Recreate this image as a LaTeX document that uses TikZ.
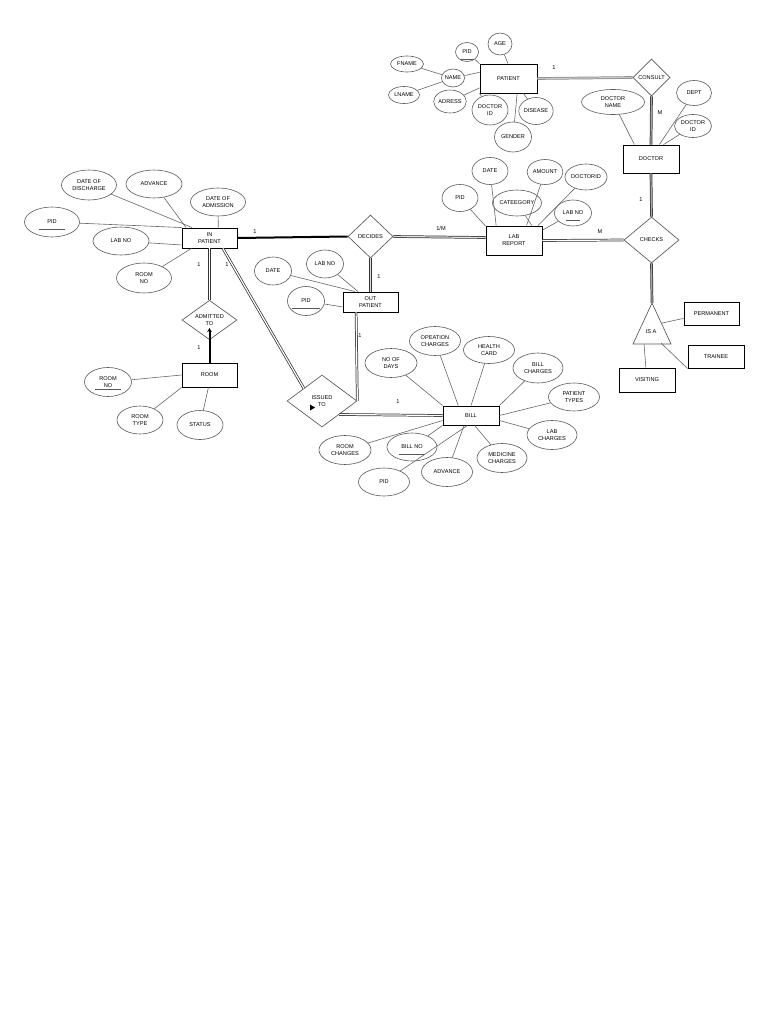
\documentclass[tikz,border=0pt]{standalone}
\usepackage{fontspec}
\setsansfont{Liberation Sans}
\usetikzlibrary{shapes.geometric, arrows.meta}
\tikzset{
    attr/.style 2 args = {ellipse, draw = black!65, line width = 0.45pt, inner sep = 0pt,
        minimum width = {#1*0.75pt}, minimum height = {#2*0.75pt}, align = center},
    ent/.style 2 args = {rectangle, draw = black, line width = 0.7pt, inner sep = 0pt,
        minimum width = {#1*0.75pt}, minimum height = {#2*0.75pt}, align = center},
    rel/.style 2 args = {diamond, draw = black!65, line width = 0.5pt, inner sep = 0pt,
        minimum width = {#1*0.75pt}, minimum height = {#2*0.75pt}, align = center},
    pk/.style = {path picture = {\draw[line width = 0.6pt]
        ([xshift = -#1, yshift = -5.2pt]path picture bounding box.center) --
        ([xshift = #1, yshift = -5.2pt]path picture bounding box.center);}},
    link/.style = {draw = black!60, line width = 0.45pt},
    dbl/.style = {draw = black!80, line width = 0.55pt, double = white, double distance = 0.9pt},
    heavy/.style = {draw = black, line width = 1.5pt},
    card/.style = {inner sep = 0pt}
}

\begin{document}
\begin{tikzpicture}[x = 0.75pt, y = -0.75pt, font = \sffamily\fontsize{4.2}{5.2}\selectfont]
    % Pagina
    \useasboundingbox (0,0) rectangle (768,1024);
    % Entita
    \node[ent = {57}{29}] (patient) at (508.5,78.5) {PATIENT};
    \node[ent = {56}{28}] (doctor) at (651,159) {DOCTOR};
    \node[ent = {56}{29}] (labreport) at (514,240.5) {LAB\\REPORT};
    \node[ent = {55}{20}] (inpatient) at (209.5,238) {IN\\PATIENT};
    \node[ent = {55}{20}] (outpatient) at (370.5,302) {OUT\\PATIENT};
    \node[ent = {55}{24}] (room) at (209.5,375) {ROOM};
    \node[ent = {56}{19}] (bill) at (471,415.5) {BILL};
    \node[ent = {55}{23}] (permanent) at (711.5,313.5) {PERMANENT};
    \node[ent = {56}{23}] (trainee) at (716,356.5) {TRAINEE};
    \node[ent = {56}{24}] (visiting) at (647,380) {VISITING};
    % Relazioni
    \node[rel = {37}{37}] (consult) at (651.5,77.5) {CONSULT};
    \node[rel = {55}{46}] (checks) at (651.5,240) {CHECKS};
    \node[rel = {45}{43}] (decides) at (370.5,236.5) {DECIDES};
    \node[rel = {55}{36}] (admitted) at (209.5,320) {ADMITTED\\TO};
    \node[rel = {70}{52}] (issued) at (322,401) {ISSUED\\TO};
    % IS A
    \coordinate (isatop) at (652,303);
    \coordinate (isaleft) at (633,344);
    \coordinate (isaright) at (671,344);
    \draw[draw = black!65, line width = 0.5pt] (isatop) -- (isaright) -- (isaleft) -- cycle;
    \node (isa) at (651,332) {IS A};
    \coordinate (isaperm) at (662,323);
    \coordinate (isatrain) at (661,343);
    \coordinate (isavisit) at (644,344);
    % Attributi di PATIENT
    \node[attr = {23}{19}, pk = 5pt] (patpid) at (467,52) {PID};
    \node[attr = {24}{22}] (patage) at (500,44) {AGE};
    \node[attr = {33}{16}] (patfname) at (407,64) {FNAME};
    \node[attr = {23}{18}] (patname) at (453,78) {NAME};
    \node[attr = {31}{17}] (patlname) at (404,95) {LNAME};
    \node[attr = {31}{23}] (patadress) at (450,101.5) {ADRESS};
    \node[attr = {36}{30}] (patdoctor) at (490,110) {DOCTOR\\ID};
    \node[attr = {32}{27}] (patdisease) at (536,111) {DISEASE};
    \node[attr = {37}{30}] (patgender) at (513,137) {GENDER};
    % Attributi di DOCTOR
    \node[attr = {63}{25}] (docname) at (613,102) {DOCTOR\\NAME};
    \node[attr = {35}{25}] (docdept) at (694,93) {DEPT};
    \node[attr = {37}{23}] (docid) at (693,126) {DOCTOR\\ID};
    % Attributi di LAB REPORT
    \node[attr = {36}{27}] (labdate) at (490,171) {DATE};
    \node[attr = {36}{25}] (labamount) at (545,172) {AMOUNT};
    \node[attr = {37}{26}] (labdoctor) at (586,177) {DOCTORID};
    \node[attr = {36}{27}] (labpid) at (460,198) {PID};
    \node[attr = {37}{26}] (labcat) at (517,203) {CATEEGORY};
    \node[attr = {37}{26}, pk = 5pt] (labno) at (573,213) {LAB NO};
    % Attributi di IN PATIENT
    \node[attr = {55}{30}] (indischarge) at (89,185) {DATE OF\\DISCHARGE};
    \node[attr = {56}{28}] (inadvance) at (154,184) {ADVANCE};
    \node[attr = {55}{28}] (inadmission) at (218,202) {DATE OF\\ADMISSION};
    \node[attr = {55}{30}, pk = 10pt] (inpid) at (52,222) {PID};
    \node[attr = {56}{28}] (inlabno) at (121,241) {LAB NO};
    \node[attr = {55}{30}] (inroomno) at (144,278) {ROOM\\NO};
    % Attributi di OUT PATIENT
    \node[attr = {37}{28}] (outdate) at (273,271) {DATE};
    \node[attr = {37}{28}] (outlabno) at (325,264) {LAB NO};
    \node[attr = {37}{29}, pk = 10.5pt] (outpid) at (306,301) {PID};
    % Attributi di ROOM
    \node[attr = {47}{29}, pk = 10pt] (roomno) at (108,382) {ROOM\\NO};
    \node[attr = {46}{28}] (roomtype) at (140,420) {ROOM\\TYPE};
    \node[attr = {46}{29}] (roomstatus) at (200,425) {STATUS};
    % Attributi di BILL
    \node[attr = {52}{29}] (billdays) at (391,363) {NO OF\\DAYS};
    \node[attr = {51}{29}] (billop) at (435,341) {OPEATION\\CHARGES};
    \node[attr = {51}{27}] (billcard) at (489,350) {HEALTH\\CARD};
    \node[attr = {50}{30}] (billcharges) at (538,368) {BILL\\CHARGES};
    \node[attr = {51}{28}] (billtypes) at (574,397) {PATIENT\\TYPES};
    \node[attr = {50}{29}] (billlab) at (552,435) {LAB\\CHARGES};
    \node[attr = {50}{29}] (billmed) at (502,458) {MEDICINE\\CHARGES};
    \node[attr = {51}{29}] (billadvance) at (447,472) {ADVANCE};
    \node[attr = {51}{28}] (billpid) at (384,482) {PID};
    \node[attr = {50}{28}, pk = 10pt] (billno) at (412,447) {BILL NO};
    \node[attr = {52}{29}] (billroom) at (345,450) {ROOM\\CHANGES};
    % Collegamenti attributi - PATIENT
    \draw[link] (patfname) -- (patname);
    \draw[link] (patlname) -- (patname);
    \draw[link] (patname) -- (patient.168);
    \draw[link] (patpid) -- (patient.153);
    \draw[link] (patage) -- (patient.92);
    \draw[link] (patadress) -- (patient.198);
    \draw[link] (patdoctor) -- (patient.207);
    \draw[link] (patdisease) -- (patient.315);
    \draw[link] (patgender) -- (patient.300);
    % Collegamenti attributi - DOCTOR
    \draw[link] (docname) -- (doctor.139);
    \draw[link] (docdept) -- (doctor.60);
    \draw[link] (docid) -- (doctor.49);
    % Collegamenti attributi - LAB REPORT
    \draw[link] (labpid) -- (labreport.153);
    \draw[link] (labdate) -- (labreport.140);
    \draw[link] (labcat) -- (labreport.40);
    \draw[link] (labamount) -- (labreport.50);
    \draw[link] (labdoctor) -- (labreport.32);
    \draw[link] (labno) -- (labreport.20);
    % Collegamenti attributi - IN PATIENT
    \draw[link] (indischarge) -- (inpatient.149);
    \draw[link] (inadvance) -- (inpatient.156);
    \draw[link] (inadmission) -- (inpatient.50);
    \draw[link] (inpid) -- (inpatient.north west);
    \draw[link] (inlabno) -- (inpatient.194);
    \draw[link] (inroomno) -- (inpatient.210);
    % Collegamenti attributi - OUT PATIENT
    \draw[link] (outdate) -- (outpatient.146);
    \draw[link] (outlabno) -- (outpatient.140);
    \draw[link] (outpid) -- (outpatient.190);
    % Collegamenti attributi - ROOM
    \draw[link] (roomno) -- (room.west);
    \draw[link] (roomtype) -- (room.south west);
    \draw[link] (roomstatus) -- (room.265);
    % Collegamenti attributi - BILL
    \draw[link] (billdays) -- (bill.north west);
    \draw[link] (billop) -- (bill.142);
    \draw[link] (billcard) -- (bill.90);
    \draw[link] (billcharges) -- (bill.north east);
    \draw[link] (billtypes) -- (bill.east);
    \draw[link] (billlab) -- (bill.350);
    \draw[link] (billmed) -- (bill.290);
    \draw[link] (billadvance) -- (bill.235);
    \draw[link] (billpid) -- (bill.250);
    \draw[link] (billno) -- (bill.south west);
    \draw[link] (billroom) -- (bill.190);
    % Relazioni tra entita
    \draw[dbl, draw = black!45, double = gray!45] (patient.east) -- (consult.west);
    \draw[dbl, double = gray!70] (consult.south) -- (doctor.north);
    \draw[dbl, double = gray!70] (doctor.south) -- (checks.north);
    \draw[dbl] (checks.west) -- (labreport.east);
    \draw[dbl, double = gray!25] (labreport.174) -- (decides.east);
    \draw[dbl, double = gray!70] (checks.south) -- (isatop);
    \draw[heavy] (inpatient.east) -- (decides.west);
    \draw[dbl, double = gray!25] (decides.south) -- (outpatient.north);
    \draw[dbl] (inpatient.south) -- (admitted.north);
    \coordinate (admtip) at (209.5,328);
    \draw[heavy, -{Stealth[length = 3pt, width = 3.5pt]}] (room.north) -- (admtip);
    \draw[dbl] (inpatient.322) -- (issued.145);
    \draw[dbl] (outpatient.216) -- (issued.east);
    \draw[dbl] (issued.-38) -- (bill.west);
    \fill (310,404.5) -- (315,407.5) -- (310,410.5) -- cycle;
    % IS A
    \draw[link] (isaperm) -- (permanent.190);
    \draw[link] (isatrain) -- (trainee.south west);
    \draw[link] (isavisit) -- (visiting.95);
    % Cardinalita
    \node[card] at (554,68) {1};
    \node[card] at (660,113) {M};
    \node[card] at (641,200) {1};
    \node[card] at (600,232) {M};
    \node[card] at (441,228) {1/M};
    \node[card] at (255,232) {1};
    \node[card] at (199,265) {1};
    \node[card] at (227,265) {1};
    \node[card] at (379,277) {1};
    \node[card] at (360,336) {1};
    \node[card] at (398,402) {1};
    \node[card] at (199,348) {1};
\end{tikzpicture}
\end{document}
